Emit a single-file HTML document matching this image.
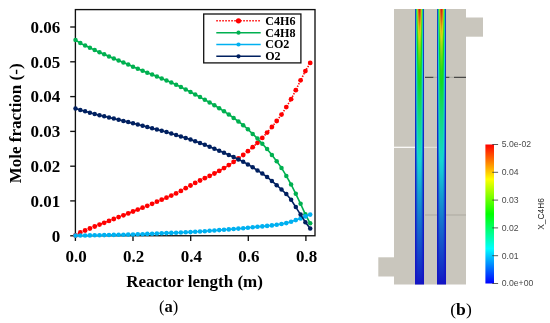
<!DOCTYPE html>
<html><head><meta charset="utf-8"><title>Figure</title>
<style>
html,body{margin:0;padding:0;background:#fff}
svg{display:block}
.t{font-family:"Liberation Serif",serif;font-weight:bold;font-size:17px;fill:#000}
.ax{font-family:"Liberation Serif",serif;font-weight:bold;font-size:17.0px;fill:#000}
.lg{font-family:"Liberation Serif",serif;font-weight:bold;font-size:12.1px;fill:#000}
.cb{font-family:"Liberation Sans",sans-serif;font-size:9.8px;fill:#4a4a4a}
.cl{font-family:"Liberation Sans",sans-serif;font-size:9.6px;fill:#222}
.cap{font-family:"Liberation Serif",serif;font-size:16.5px;fill:#000}
</style></head><body>
<svg width="550" height="323" viewBox="0 0 550 323">
<rect width="550" height="323" fill="#fff"/>

<g stroke="#111" stroke-width="1.35" fill="none"><rect x="75.4" y="9.6" width="239.6" height="226.15"/>
<line x1="70.2" y1="235.8" x2="75.4" y2="235.8"/>
<line x1="70.2" y1="200.9" x2="75.4" y2="200.9"/>
<line x1="70.2" y1="166.2" x2="75.4" y2="166.2"/>
<line x1="70.2" y1="131.4" x2="75.4" y2="131.4"/>
<line x1="70.2" y1="96.6" x2="75.4" y2="96.6"/>
<line x1="70.2" y1="61.8" x2="75.4" y2="61.8"/>
<line x1="70.2" y1="27.0" x2="75.4" y2="27.0"/>
<line x1="75.4" y1="235.75" x2="75.4" y2="240.95"/>
<line x1="133.0" y1="235.75" x2="133.0" y2="240.95"/>
<line x1="190.7" y1="235.75" x2="190.7" y2="240.95"/>
<line x1="248.3" y1="235.75" x2="248.3" y2="240.95"/>
<line x1="305.9" y1="235.75" x2="305.9" y2="240.95"/>
</g>
<text class="t" x="60.3" y="241.6" text-anchor="end">0</text>
<text class="t" x="60.3" y="206.8" text-anchor="end">0.01</text>
<text class="t" x="60.3" y="172.0" text-anchor="end">0.02</text>
<text class="t" x="60.3" y="137.2" text-anchor="end">0.03</text>
<text class="t" x="60.3" y="102.4" text-anchor="end">0.04</text>
<text class="t" x="60.3" y="67.5" text-anchor="end">0.05</text>
<text class="t" x="60.3" y="32.8" text-anchor="end">0.06</text>
<text class="t" x="76.0" y="261.9" text-anchor="middle">0.0</text>
<text class="t" x="133.6" y="261.9" text-anchor="middle">0.2</text>
<text class="t" x="191.3" y="261.9" text-anchor="middle">0.4</text>
<text class="t" x="248.9" y="261.9" text-anchor="middle">0.6</text>
<text class="t" x="306.5" y="261.9" text-anchor="middle">0.8</text>
<text class="ax" x="194.6" y="286.6" text-anchor="middle">Reactor length (m)</text>
<text class="ax" transform="translate(20.6,123.4) rotate(-90)" text-anchor="middle">Mole fraction (-)</text>
<polyline points="75.5,235.4 80.3,232.5 85.1,230.5 89.9,228.5 94.7,226.5 99.5,224.6 104.2,222.8 109.0,220.9 113.8,219.0 118.6,217.1 123.4,215.3 128.2,213.4 133.0,211.5 137.8,209.6 142.6,207.7 147.3,205.8 152.1,203.8 156.9,201.7 161.7,199.7 166.5,197.7 171.3,195.6 176.1,193.4 180.9,190.9 185.7,188.2 190.5,185.5 195.2,182.9 200.0,180.5 204.8,178.2 209.6,175.9 214.4,173.5 219.2,170.9 224.0,168.1 228.8,165.1 233.6,161.9 238.4,158.5 243.2,155.0 247.9,151.2 252.7,147.2 257.5,142.8 262.3,137.9 267.1,132.6 271.9,127.0 276.7,121.0 281.5,114.6 286.3,107.1 291.1,99.2 295.8,90.2 300.6,80.3 305.4,71.1 310.2,62.9" fill="none" stroke="#ff0000" stroke-width="1.6" stroke-dasharray="1.4 1.4"/>
<g fill="#ff0000"><circle cx="75.5" cy="235.4" r="2.4"/><circle cx="80.3" cy="232.5" r="2.4"/><circle cx="85.1" cy="230.5" r="2.4"/><circle cx="89.9" cy="228.5" r="2.4"/><circle cx="94.7" cy="226.5" r="2.4"/><circle cx="99.5" cy="224.6" r="2.4"/><circle cx="104.2" cy="222.8" r="2.4"/><circle cx="109.0" cy="220.9" r="2.4"/><circle cx="113.8" cy="219.0" r="2.4"/><circle cx="118.6" cy="217.1" r="2.4"/><circle cx="123.4" cy="215.3" r="2.4"/><circle cx="128.2" cy="213.4" r="2.4"/><circle cx="133.0" cy="211.5" r="2.4"/><circle cx="137.8" cy="209.6" r="2.4"/><circle cx="142.6" cy="207.7" r="2.4"/><circle cx="147.3" cy="205.8" r="2.4"/><circle cx="152.1" cy="203.8" r="2.4"/><circle cx="156.9" cy="201.7" r="2.4"/><circle cx="161.7" cy="199.7" r="2.4"/><circle cx="166.5" cy="197.7" r="2.4"/><circle cx="171.3" cy="195.6" r="2.4"/><circle cx="176.1" cy="193.4" r="2.4"/><circle cx="180.9" cy="190.9" r="2.4"/><circle cx="185.7" cy="188.2" r="2.4"/><circle cx="190.5" cy="185.5" r="2.4"/><circle cx="195.2" cy="182.9" r="2.4"/><circle cx="200.0" cy="180.5" r="2.4"/><circle cx="204.8" cy="178.2" r="2.4"/><circle cx="209.6" cy="175.9" r="2.4"/><circle cx="214.4" cy="173.5" r="2.4"/><circle cx="219.2" cy="170.9" r="2.4"/><circle cx="224.0" cy="168.1" r="2.4"/><circle cx="228.8" cy="165.1" r="2.4"/><circle cx="233.6" cy="161.9" r="2.4"/><circle cx="238.4" cy="158.5" r="2.4"/><circle cx="243.2" cy="155.0" r="2.4"/><circle cx="247.9" cy="151.2" r="2.4"/><circle cx="252.7" cy="147.2" r="2.4"/><circle cx="257.5" cy="142.8" r="2.4"/><circle cx="262.3" cy="137.9" r="2.4"/><circle cx="267.1" cy="132.6" r="2.4"/><circle cx="271.9" cy="127.0" r="2.4"/><circle cx="276.7" cy="121.0" r="2.4"/><circle cx="281.5" cy="114.6" r="2.4"/><circle cx="286.3" cy="107.1" r="2.4"/><circle cx="291.1" cy="99.2" r="2.4"/><circle cx="295.8" cy="90.2" r="2.4"/><circle cx="300.6" cy="80.3" r="2.4"/><circle cx="305.4" cy="71.1" r="2.4"/><circle cx="310.2" cy="62.9" r="2.4"/></g>
<polyline points="75.5,40.0 80.3,43.1 85.1,45.6 89.9,47.8 94.7,50.1 99.5,52.3 104.2,54.3 109.0,56.4 113.8,58.4 118.6,60.5 123.4,62.6 128.2,64.6 133.0,66.7 137.8,68.7 142.6,70.7 147.3,72.7 152.1,74.6 156.9,76.5 161.7,78.5 166.5,80.4 171.3,82.5 176.1,84.7 180.9,87.0 185.7,89.5 190.5,92.0 195.2,94.5 200.0,97.1 204.8,99.7 209.6,102.4 214.4,105.2 219.2,108.2 224.0,111.3 228.8,114.5 233.6,117.9 238.4,121.5 243.2,125.2 247.9,129.3 252.7,133.9 257.5,138.6 262.3,143.8 267.1,149.1 271.9,154.9 276.7,161.2 281.5,167.9 286.3,175.9 291.1,184.5 295.8,193.8 300.6,203.8 305.4,214.3 310.2,223.3" fill="none" stroke="#00b050" stroke-width="1.6"/>
<g fill="#00b050"><circle cx="75.5" cy="40.0" r="2.25"/><circle cx="80.3" cy="43.1" r="2.25"/><circle cx="85.1" cy="45.6" r="2.25"/><circle cx="89.9" cy="47.8" r="2.25"/><circle cx="94.7" cy="50.1" r="2.25"/><circle cx="99.5" cy="52.3" r="2.25"/><circle cx="104.2" cy="54.3" r="2.25"/><circle cx="109.0" cy="56.4" r="2.25"/><circle cx="113.8" cy="58.4" r="2.25"/><circle cx="118.6" cy="60.5" r="2.25"/><circle cx="123.4" cy="62.6" r="2.25"/><circle cx="128.2" cy="64.6" r="2.25"/><circle cx="133.0" cy="66.7" r="2.25"/><circle cx="137.8" cy="68.7" r="2.25"/><circle cx="142.6" cy="70.7" r="2.25"/><circle cx="147.3" cy="72.7" r="2.25"/><circle cx="152.1" cy="74.6" r="2.25"/><circle cx="156.9" cy="76.5" r="2.25"/><circle cx="161.7" cy="78.5" r="2.25"/><circle cx="166.5" cy="80.4" r="2.25"/><circle cx="171.3" cy="82.5" r="2.25"/><circle cx="176.1" cy="84.7" r="2.25"/><circle cx="180.9" cy="87.0" r="2.25"/><circle cx="185.7" cy="89.5" r="2.25"/><circle cx="190.5" cy="92.0" r="2.25"/><circle cx="195.2" cy="94.5" r="2.25"/><circle cx="200.0" cy="97.1" r="2.25"/><circle cx="204.8" cy="99.7" r="2.25"/><circle cx="209.6" cy="102.4" r="2.25"/><circle cx="214.4" cy="105.2" r="2.25"/><circle cx="219.2" cy="108.2" r="2.25"/><circle cx="224.0" cy="111.3" r="2.25"/><circle cx="228.8" cy="114.5" r="2.25"/><circle cx="233.6" cy="117.9" r="2.25"/><circle cx="238.4" cy="121.5" r="2.25"/><circle cx="243.2" cy="125.2" r="2.25"/><circle cx="247.9" cy="129.3" r="2.25"/><circle cx="252.7" cy="133.9" r="2.25"/><circle cx="257.5" cy="138.6" r="2.25"/><circle cx="262.3" cy="143.8" r="2.25"/><circle cx="267.1" cy="149.1" r="2.25"/><circle cx="271.9" cy="154.9" r="2.25"/><circle cx="276.7" cy="161.2" r="2.25"/><circle cx="281.5" cy="167.9" r="2.25"/><circle cx="286.3" cy="175.9" r="2.25"/><circle cx="291.1" cy="184.5" r="2.25"/><circle cx="295.8" cy="193.8" r="2.25"/><circle cx="300.6" cy="203.8" r="2.25"/><circle cx="305.4" cy="214.3" r="2.25"/><circle cx="310.2" cy="223.3" r="2.25"/></g>
<polyline points="75.5,235.6 80.3,235.5 85.1,235.5 89.9,235.4 94.7,235.3 99.5,235.2 104.2,235.1 109.0,235.0 113.8,234.9 118.6,234.8 123.4,234.7 128.2,234.6 133.0,234.5 137.8,234.3 142.6,234.2 147.3,233.9 152.1,233.7 156.9,233.5 161.7,233.3 166.5,233.1 171.3,232.9 176.1,232.7 180.9,232.5 185.7,232.3 190.5,232.1 195.2,231.8 200.0,231.5 204.8,231.2 209.6,230.8 214.4,230.5 219.2,230.1 224.0,229.8 228.8,229.4 233.6,229.0 238.4,228.6 243.2,228.2 247.9,227.7 252.7,227.3 257.5,226.8 262.3,226.4 267.1,225.9 271.9,225.4 276.7,224.8 281.5,224.0 286.3,223.1 291.1,221.8 295.8,220.1 300.6,218.4 305.4,216.4 310.2,214.6" fill="none" stroke="#00b0f0" stroke-width="1.6"/>
<g fill="#00b0f0"><circle cx="75.5" cy="235.6" r="2.3"/><circle cx="80.3" cy="235.5" r="2.3"/><circle cx="85.1" cy="235.5" r="2.3"/><circle cx="89.9" cy="235.4" r="2.3"/><circle cx="94.7" cy="235.3" r="2.3"/><circle cx="99.5" cy="235.2" r="2.3"/><circle cx="104.2" cy="235.1" r="2.3"/><circle cx="109.0" cy="235.0" r="2.3"/><circle cx="113.8" cy="234.9" r="2.3"/><circle cx="118.6" cy="234.8" r="2.3"/><circle cx="123.4" cy="234.7" r="2.3"/><circle cx="128.2" cy="234.6" r="2.3"/><circle cx="133.0" cy="234.5" r="2.3"/><circle cx="137.8" cy="234.3" r="2.3"/><circle cx="142.6" cy="234.2" r="2.3"/><circle cx="147.3" cy="233.9" r="2.3"/><circle cx="152.1" cy="233.7" r="2.3"/><circle cx="156.9" cy="233.5" r="2.3"/><circle cx="161.7" cy="233.3" r="2.3"/><circle cx="166.5" cy="233.1" r="2.3"/><circle cx="171.3" cy="232.9" r="2.3"/><circle cx="176.1" cy="232.7" r="2.3"/><circle cx="180.9" cy="232.5" r="2.3"/><circle cx="185.7" cy="232.3" r="2.3"/><circle cx="190.5" cy="232.1" r="2.3"/><circle cx="195.2" cy="231.8" r="2.3"/><circle cx="200.0" cy="231.5" r="2.3"/><circle cx="204.8" cy="231.2" r="2.3"/><circle cx="209.6" cy="230.8" r="2.3"/><circle cx="214.4" cy="230.5" r="2.3"/><circle cx="219.2" cy="230.1" r="2.3"/><circle cx="224.0" cy="229.8" r="2.3"/><circle cx="228.8" cy="229.4" r="2.3"/><circle cx="233.6" cy="229.0" r="2.3"/><circle cx="238.4" cy="228.6" r="2.3"/><circle cx="243.2" cy="228.2" r="2.3"/><circle cx="247.9" cy="227.7" r="2.3"/><circle cx="252.7" cy="227.3" r="2.3"/><circle cx="257.5" cy="226.8" r="2.3"/><circle cx="262.3" cy="226.4" r="2.3"/><circle cx="267.1" cy="225.9" r="2.3"/><circle cx="271.9" cy="225.4" r="2.3"/><circle cx="276.7" cy="224.8" r="2.3"/><circle cx="281.5" cy="224.0" r="2.3"/><circle cx="286.3" cy="223.1" r="2.3"/><circle cx="291.1" cy="221.8" r="2.3"/><circle cx="295.8" cy="220.1" r="2.3"/><circle cx="300.6" cy="218.4" r="2.3"/><circle cx="305.4" cy="216.4" r="2.3"/><circle cx="310.2" cy="214.6" r="2.3"/></g>
<polyline points="75.5,108.5 80.3,109.9 85.1,111.3 89.9,112.7 94.7,114.0 99.5,115.2 104.2,116.3 109.0,117.5 113.8,118.6 118.6,119.8 123.4,120.9 128.2,122.1 133.0,123.3 137.8,124.5 142.6,125.7 147.3,127.0 152.1,128.2 156.9,129.5 161.7,130.8 166.5,132.1 171.3,133.5 176.1,134.9 180.9,136.4 185.7,137.9 190.5,139.5 195.2,141.2 200.0,142.9 204.8,144.8 209.6,146.7 214.4,148.7 219.2,150.7 224.0,152.8 228.8,154.9 233.6,157.1 238.4,159.4 243.2,161.8 247.9,164.4 252.7,167.3 257.5,170.4 262.3,173.6 267.1,177.0 271.9,181.1 276.7,185.2 281.5,189.5 286.3,194.1 291.1,199.7 295.8,207.1 300.6,214.6 305.4,222.2 310.2,228.5" fill="none" stroke="#002060" stroke-width="1.6"/>
<g fill="#002060"><circle cx="75.5" cy="108.5" r="2.25"/><circle cx="80.3" cy="109.9" r="2.25"/><circle cx="85.1" cy="111.3" r="2.25"/><circle cx="89.9" cy="112.7" r="2.25"/><circle cx="94.7" cy="114.0" r="2.25"/><circle cx="99.5" cy="115.2" r="2.25"/><circle cx="104.2" cy="116.3" r="2.25"/><circle cx="109.0" cy="117.5" r="2.25"/><circle cx="113.8" cy="118.6" r="2.25"/><circle cx="118.6" cy="119.8" r="2.25"/><circle cx="123.4" cy="120.9" r="2.25"/><circle cx="128.2" cy="122.1" r="2.25"/><circle cx="133.0" cy="123.3" r="2.25"/><circle cx="137.8" cy="124.5" r="2.25"/><circle cx="142.6" cy="125.7" r="2.25"/><circle cx="147.3" cy="127.0" r="2.25"/><circle cx="152.1" cy="128.2" r="2.25"/><circle cx="156.9" cy="129.5" r="2.25"/><circle cx="161.7" cy="130.8" r="2.25"/><circle cx="166.5" cy="132.1" r="2.25"/><circle cx="171.3" cy="133.5" r="2.25"/><circle cx="176.1" cy="134.9" r="2.25"/><circle cx="180.9" cy="136.4" r="2.25"/><circle cx="185.7" cy="137.9" r="2.25"/><circle cx="190.5" cy="139.5" r="2.25"/><circle cx="195.2" cy="141.2" r="2.25"/><circle cx="200.0" cy="142.9" r="2.25"/><circle cx="204.8" cy="144.8" r="2.25"/><circle cx="209.6" cy="146.7" r="2.25"/><circle cx="214.4" cy="148.7" r="2.25"/><circle cx="219.2" cy="150.7" r="2.25"/><circle cx="224.0" cy="152.8" r="2.25"/><circle cx="228.8" cy="154.9" r="2.25"/><circle cx="233.6" cy="157.1" r="2.25"/><circle cx="238.4" cy="159.4" r="2.25"/><circle cx="243.2" cy="161.8" r="2.25"/><circle cx="247.9" cy="164.4" r="2.25"/><circle cx="252.7" cy="167.3" r="2.25"/><circle cx="257.5" cy="170.4" r="2.25"/><circle cx="262.3" cy="173.6" r="2.25"/><circle cx="267.1" cy="177.0" r="2.25"/><circle cx="271.9" cy="181.1" r="2.25"/><circle cx="276.7" cy="185.2" r="2.25"/><circle cx="281.5" cy="189.5" r="2.25"/><circle cx="286.3" cy="194.1" r="2.25"/><circle cx="291.1" cy="199.7" r="2.25"/><circle cx="295.8" cy="207.1" r="2.25"/><circle cx="300.6" cy="214.6" r="2.25"/><circle cx="305.4" cy="222.2" r="2.25"/><circle cx="310.2" cy="228.5" r="2.25"/></g>
<rect x="203.7" y="14" width="97.2" height="48.9" fill="#fff" stroke="#111" stroke-width="1.3"/>
<line x1="216.3" y1="20.8" x2="260.7" y2="20.8" stroke="#ff0000" stroke-width="1.5" stroke-dasharray="1.5 1.5"/><circle cx="238.5" cy="20.8" r="2.6" fill="#ff0000"/>
<text class="lg" x="265.2" y="24.7">C4H6</text>
<line x1="216.3" y1="32.7" x2="260.7" y2="32.7" stroke="#00b050" stroke-width="1.5"/><circle cx="238.5" cy="32.7" r="2.1" fill="#00b050"/>
<text class="lg" x="265.2" y="36.6">C4H8</text>
<line x1="216.3" y1="44.5" x2="260.7" y2="44.5" stroke="#00b0f0" stroke-width="1.5"/><circle cx="238.5" cy="44.5" r="2.1" fill="#00b0f0"/>
<text class="lg" x="265.2" y="48.4">CO2</text>
<line x1="216.3" y1="56.3" x2="260.7" y2="56.3" stroke="#002060" stroke-width="1.5"/><circle cx="238.5" cy="56.3" r="2.1" fill="#002060"/>
<text class="lg" x="265.2" y="60.2">O2</text>
<text class="cap" x="168.6" y="311.9" text-anchor="middle">(<tspan font-weight="bold">a</tspan>)</text>
<g fill="#c9c6bd"><rect x="394" y="9" width="72" height="275.5"/><rect x="466" y="17.5" width="17" height="19.2"/><rect x="378.3" y="257.3" width="16" height="19.2"/></g>
<path d="M425 77.3H433.5M446 77.3H449.5M454 77.3H466" stroke="#2a2a2a" stroke-width="1" fill="none"/><path d="M433.5 77.3H437M449.5 77.3H454" stroke="#a5a29a" stroke-width="0.8" fill="none"/>
<line x1="394" y1="147.3" x2="415" y2="147.3" stroke="#fff" stroke-width="1.2"/>
<line x1="424" y1="147.3" x2="437" y2="147.3" stroke="#e8e6e0" stroke-width="1"/>
<line x1="425" y1="215" x2="466" y2="215" stroke="#a9a69d" stroke-width="0.9"/>
<defs><linearGradient id="g0" x1="0" y1="0" x2="0" y2="1"><stop offset="0.0000" stop-color="#144dc9"/><stop offset="0.0204" stop-color="#144bc9"/><stop offset="0.0408" stop-color="#1448c9"/><stop offset="0.0612" stop-color="#1445c9"/><stop offset="0.0816" stop-color="#1443c8"/><stop offset="0.1020" stop-color="#1441c8"/><stop offset="0.1224" stop-color="#143fc8"/><stop offset="0.1429" stop-color="#143dc8"/><stop offset="0.1633" stop-color="#143bc8"/><stop offset="0.1837" stop-color="#133ac7"/><stop offset="0.2245" stop-color="#1337c7"/><stop offset="0.2653" stop-color="#1335c7"/><stop offset="0.3061" stop-color="#1332c7"/><stop offset="0.3469" stop-color="#1331c7"/><stop offset="0.3878" stop-color="#132ec6"/><stop offset="0.4286" stop-color="#132cc6"/><stop offset="0.4694" stop-color="#132ac6"/><stop offset="0.5102" stop-color="#1328c6"/><stop offset="0.5510" stop-color="#1326c6"/><stop offset="0.5918" stop-color="#1324c5"/><stop offset="0.6327" stop-color="#1322c5"/><stop offset="0.6735" stop-color="#1320c5"/><stop offset="0.7143" stop-color="#131fc5"/><stop offset="0.7551" stop-color="#131dc5"/><stop offset="0.7959" stop-color="#131cc5"/><stop offset="0.8367" stop-color="#131ac5"/><stop offset="0.8776" stop-color="#1318c4"/><stop offset="0.9184" stop-color="#1317c4"/><stop offset="0.9592" stop-color="#1315c4"/><stop offset="1.0000" stop-color="#1313c4"/></linearGradient><linearGradient id="g1" x1="0" y1="0" x2="0" y2="1"><stop offset="0.0000" stop-color="#15d875"/><stop offset="0.0204" stop-color="#15d883"/><stop offset="0.0408" stop-color="#15d88e"/><stop offset="0.0612" stop-color="#15d89a"/><stop offset="0.0816" stop-color="#15d8a5"/><stop offset="0.1020" stop-color="#15d8af"/><stop offset="0.1224" stop-color="#15d8b8"/><stop offset="0.1429" stop-color="#15d7c0"/><stop offset="0.1633" stop-color="#15d6c7"/><stop offset="0.1837" stop-color="#15d6cd"/><stop offset="0.2245" stop-color="#15cfd4"/><stop offset="0.2653" stop-color="#15c3d3"/><stop offset="0.3061" stop-color="#15b8d2"/><stop offset="0.3469" stop-color="#15aed2"/><stop offset="0.3878" stop-color="#14a1d1"/><stop offset="0.4286" stop-color="#1495d0"/><stop offset="0.4694" stop-color="#148bcf"/><stop offset="0.5102" stop-color="#147fce"/><stop offset="0.5510" stop-color="#1473cd"/><stop offset="0.5918" stop-color="#1469cc"/><stop offset="0.6327" stop-color="#1460cb"/><stop offset="0.6735" stop-color="#1457ca"/><stop offset="0.7143" stop-color="#144ec9"/><stop offset="0.7551" stop-color="#1446c9"/><stop offset="0.7959" stop-color="#143ec8"/><stop offset="0.8367" stop-color="#1336c7"/><stop offset="0.8776" stop-color="#132ec6"/><stop offset="0.9184" stop-color="#1326c6"/><stop offset="0.9592" stop-color="#131ec5"/><stop offset="1.0000" stop-color="#1313c4"/></linearGradient><linearGradient id="g2" x1="0" y1="0" x2="0" y2="1"><stop offset="0.0000" stop-color="#aed815"/><stop offset="0.0204" stop-color="#94d815"/><stop offset="0.0408" stop-color="#7ed815"/><stop offset="0.0612" stop-color="#66d815"/><stop offset="0.0816" stop-color="#50d815"/><stop offset="0.1020" stop-color="#3cd815"/><stop offset="0.1224" stop-color="#29d815"/><stop offset="0.1429" stop-color="#1ad815"/><stop offset="0.1633" stop-color="#15d820"/><stop offset="0.1837" stop-color="#15d82e"/><stop offset="0.2245" stop-color="#15d849"/><stop offset="0.2653" stop-color="#15d85f"/><stop offset="0.3061" stop-color="#15d873"/><stop offset="0.3469" stop-color="#15d885"/><stop offset="0.3878" stop-color="#15d89b"/><stop offset="0.4286" stop-color="#15d8af"/><stop offset="0.4694" stop-color="#15d7c0"/><stop offset="0.5102" stop-color="#15d5d2"/><stop offset="0.5510" stop-color="#15c2d3"/><stop offset="0.5918" stop-color="#15aed2"/><stop offset="0.6327" stop-color="#149dd0"/><stop offset="0.6735" stop-color="#148dcf"/><stop offset="0.7143" stop-color="#147dcd"/><stop offset="0.7551" stop-color="#146ecc"/><stop offset="0.7959" stop-color="#1460cb"/><stop offset="0.8367" stop-color="#1451ca"/><stop offset="0.8776" stop-color="#1443c8"/><stop offset="0.9184" stop-color="#1335c7"/><stop offset="0.9592" stop-color="#1326c6"/><stop offset="1.0000" stop-color="#1313c4"/></linearGradient><linearGradient id="g3" x1="0" y1="0" x2="0" y2="1"><stop offset="0.0000" stop-color="#d85815"/><stop offset="0.0204" stop-color="#d87a15"/><stop offset="0.0408" stop-color="#d89d15"/><stop offset="0.0612" stop-color="#d8c315"/><stop offset="0.0816" stop-color="#cbd815"/><stop offset="0.1020" stop-color="#add815"/><stop offset="0.1224" stop-color="#90d815"/><stop offset="0.1429" stop-color="#78d815"/><stop offset="0.1633" stop-color="#61d815"/><stop offset="0.1837" stop-color="#4bd815"/><stop offset="0.2245" stop-color="#23d815"/><stop offset="0.2653" stop-color="#15d828"/><stop offset="0.3061" stop-color="#15d845"/><stop offset="0.3469" stop-color="#15d85e"/><stop offset="0.3878" stop-color="#15d879"/><stop offset="0.4286" stop-color="#15d88f"/><stop offset="0.4694" stop-color="#15d8a3"/><stop offset="0.5102" stop-color="#15d7b9"/><stop offset="0.5510" stop-color="#15d5cf"/><stop offset="0.5918" stop-color="#15c5d4"/><stop offset="0.6327" stop-color="#15b2d2"/><stop offset="0.6735" stop-color="#149ed0"/><stop offset="0.7143" stop-color="#148dcf"/><stop offset="0.7551" stop-color="#147bcd"/><stop offset="0.7959" stop-color="#146acc"/><stop offset="0.8367" stop-color="#145aca"/><stop offset="0.8776" stop-color="#144ac9"/><stop offset="0.9184" stop-color="#133ac7"/><stop offset="0.9592" stop-color="#1329c6"/><stop offset="1.0000" stop-color="#1313c4"/></linearGradient><linearGradient id="g4" x1="0" y1="0" x2="0" y2="1"><stop offset="0.0000" stop-color="#d81a15"/><stop offset="0.0204" stop-color="#d83f15"/><stop offset="0.0408" stop-color="#d86815"/><stop offset="0.0612" stop-color="#d89515"/><stop offset="0.0816" stop-color="#d8bd15"/><stop offset="0.1020" stop-color="#d0d815"/><stop offset="0.1224" stop-color="#aed815"/><stop offset="0.1429" stop-color="#92d815"/><stop offset="0.1633" stop-color="#77d815"/><stop offset="0.1837" stop-color="#5ed815"/><stop offset="0.2245" stop-color="#30d815"/><stop offset="0.2653" stop-color="#15d820"/><stop offset="0.3061" stop-color="#15d841"/><stop offset="0.3469" stop-color="#15d85e"/><stop offset="0.3878" stop-color="#15d879"/><stop offset="0.4286" stop-color="#15d88f"/><stop offset="0.4694" stop-color="#15d8a3"/><stop offset="0.5102" stop-color="#15d7b9"/><stop offset="0.5510" stop-color="#15d5cf"/><stop offset="0.5918" stop-color="#15c5d4"/><stop offset="0.6327" stop-color="#15b2d2"/><stop offset="0.6735" stop-color="#149ed0"/><stop offset="0.7143" stop-color="#148dcf"/><stop offset="0.7551" stop-color="#147bcd"/><stop offset="0.7959" stop-color="#146acc"/><stop offset="0.8367" stop-color="#145aca"/><stop offset="0.8776" stop-color="#144ac9"/><stop offset="0.9184" stop-color="#133ac7"/><stop offset="0.9592" stop-color="#1329c6"/><stop offset="1.0000" stop-color="#1313c4"/></linearGradient><linearGradient id="cb" x1="0" y1="1" x2="0" y2="0"><stop offset="0.00" stop-color="#0000ff"/><stop offset="0.05" stop-color="#0033ff"/><stop offset="0.10" stop-color="#0066ff"/><stop offset="0.15" stop-color="#0099ff"/><stop offset="0.20" stop-color="#00cbff"/><stop offset="0.25" stop-color="#00ffff"/><stop offset="0.30" stop-color="#00ffcb"/><stop offset="0.35" stop-color="#00ff99"/><stop offset="0.40" stop-color="#00ff66"/><stop offset="0.45" stop-color="#00ff32"/><stop offset="0.50" stop-color="#00ff00"/><stop offset="0.55" stop-color="#33ff00"/><stop offset="0.60" stop-color="#65ff00"/><stop offset="0.65" stop-color="#99ff00"/><stop offset="0.70" stop-color="#cbff00"/><stop offset="0.75" stop-color="#ffff00"/><stop offset="0.80" stop-color="#ffcb00"/><stop offset="0.85" stop-color="#ff9900"/><stop offset="0.90" stop-color="#ff6500"/><stop offset="0.95" stop-color="#ff3300"/><stop offset="1.00" stop-color="#ff0000"/></linearGradient></defs>
<rect x="415" y="9" width="1.02" height="275.5" fill="url(#g0)"/>
<rect x="416" y="9" width="1.02" height="275.5" fill="url(#g1)"/>
<rect x="417" y="9" width="1.02" height="275.5" fill="url(#g2)"/>
<rect x="418" y="9" width="1.02" height="275.5" fill="url(#g3)"/>
<rect x="419" y="9" width="1.02" height="275.5" fill="url(#g4)"/>
<rect x="420" y="9" width="1.02" height="275.5" fill="url(#g3)"/>
<rect x="421" y="9" width="1.02" height="275.5" fill="url(#g2)"/>
<rect x="422" y="9" width="1.02" height="275.5" fill="url(#g1)"/>
<rect x="423" y="9" width="1.02" height="275.5" fill="url(#g0)"/>
<rect x="437" y="9" width="1.02" height="275.5" fill="url(#g0)"/>
<rect x="438" y="9" width="1.02" height="275.5" fill="url(#g1)"/>
<rect x="439" y="9" width="1.02" height="275.5" fill="url(#g2)"/>
<rect x="440" y="9" width="1.02" height="275.5" fill="url(#g3)"/>
<rect x="441" y="9" width="1.02" height="275.5" fill="url(#g4)"/>
<rect x="442" y="9" width="1.02" height="275.5" fill="url(#g3)"/>
<rect x="443" y="9" width="1.02" height="275.5" fill="url(#g2)"/>
<rect x="444" y="9" width="1.02" height="275.5" fill="url(#g1)"/>
<rect x="445" y="9" width="1.02" height="275.5" fill="url(#g0)"/>
<rect x="485.4" y="144.5" width="8.6" height="139" fill="url(#cb)"/>
<line x1="492.3" y1="283.5" x2="498.1" y2="283.5" stroke="#333" stroke-width="0.8"/>
<text class="cb" transform="translate(501.7,286.3) scale(0.885,1)">0.0e+00</text>
<line x1="492.3" y1="255.7" x2="498.1" y2="255.7" stroke="#333" stroke-width="0.8"/>
<text class="cb" transform="translate(501.7,258.5) scale(0.885,1)">0.01</text>
<line x1="492.3" y1="227.9" x2="498.1" y2="227.9" stroke="#333" stroke-width="0.8"/>
<text class="cb" transform="translate(501.7,230.7) scale(0.885,1)">0.02</text>
<line x1="492.3" y1="200.1" x2="498.1" y2="200.1" stroke="#333" stroke-width="0.8"/>
<text class="cb" transform="translate(501.7,202.9) scale(0.885,1)">0.03</text>
<line x1="492.3" y1="172.3" x2="498.1" y2="172.3" stroke="#333" stroke-width="0.8"/>
<text class="cb" transform="translate(501.7,175.1) scale(0.885,1)">0.04</text>
<line x1="492.3" y1="144.5" x2="498.1" y2="144.5" stroke="#333" stroke-width="0.8"/>
<text class="cb" transform="translate(501.7,147.0) scale(0.885,1)">5.0e-02</text>
<text class="cl" transform="translate(543.5,213.9) rotate(-90) scale(0.875,1)" text-anchor="middle">X_C4H6</text>
<text class="cap" style="font-size:17.6px" x="461" y="315.0" text-anchor="middle">(<tspan font-weight="bold">b</tspan>)</text>
</svg></body></html>
